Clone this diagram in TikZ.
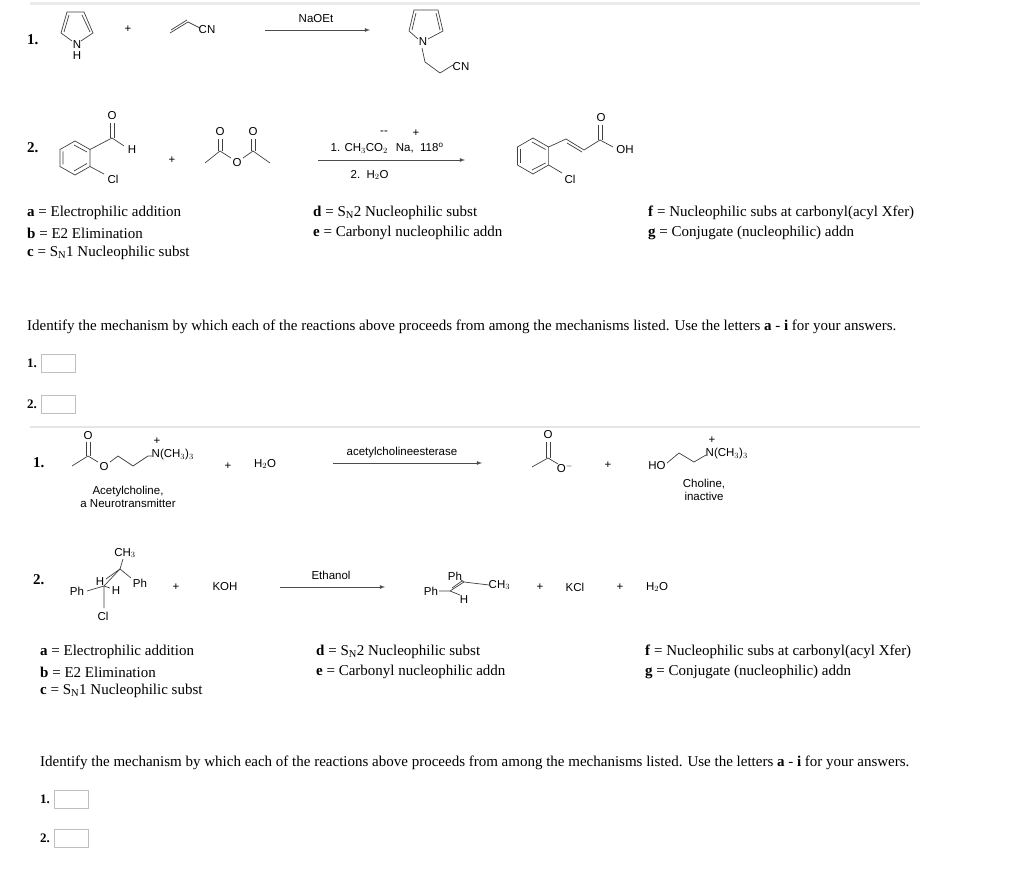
\documentclass[tikz,border=0pt]{standalone}
\usepackage{fontspec}
\setmainfont{Liberation Serif}
\newfontfamily\chemfont{Liberation Sans}
\begin{document}
\begin{tikzpicture}[x=1pt,y=-1pt,
  lbl/.style={font=\chemfont\fontsize{11.5}{13}\selectfont,inner sep=0.5pt},
  txt/.style={font=\fontsize{15}{17}\selectfont,anchor=west,inner sep=0pt},
  num/.style={txt,font=\bfseries\fontsize{15}{17}\selectfont},
  bd/.style={line width=0.7pt,draw=black!75},
  rxn/.style={line width=0.8pt,draw=black!70,-latex},
  ansbox/.style={draw=black!25,minimum width=34pt,minimum height=18pt,inner sep=0pt}]
\useasboundingbox (0,0) rectangle (1018,874);
\draw[line width=3pt,black!8] (30,4) -- (920,4);
\draw[line width=1.5pt,black!10] (30,427) -- (920,427);
% ---------- top reaction 1
\node[num] (n1) at (27,40) {1.};
\draw[bd] (61,33) -- (67,12) -- (84,12) -- (93,33) -- (81,41);
\draw[bd] (61,33) -- (72,41);
\draw[bd] (64,32) -- (69,15) (82,15) -- (90,32);
\node[lbl] (pyN) at (77,45) {N};
\node[lbl] (pyH) at (77,56) {H};
\node[lbl] (p1) at (128,29) {+};
\draw[bd] (170,33) -- (188,22) -- (200,28);
\draw[bd] (171,30) -- (187,20);
\node[lbl,anchor=west] (cn1) at (198,30) {CN};
\node[lbl] (naoet) at (316,19) {NaOEt};
\coordinate (a1s) at (265,30); \coordinate (a1e) at (370,30);
\draw[rxn] (a1s) -- (a1e);
\draw[bd] (409,31) -- (414,10) -- (438,10) -- (443,31) -- (428,39);
\draw[bd] (409,31) -- (418,39);
\draw[bd] (412,30) -- (416,13) (436,13) -- (440,30);
\node[lbl] (pyN2) at (423,42) {N};
\draw[bd] (422,48) -- (425,62) -- (440,73) -- (453,65);
\node[lbl,anchor=west] (cn2) at (452,67) {CN};
% ---------- top reaction 2
\node[num] (n2) at (27,148) {2.};
\draw[bd] (75,141) -- (90,149.5) -- (90,166.5) -- (75,175) -- (60,166.5) -- (60,149.5) -- cycle;
\draw[bd] (63,151.5) -- (63,164.5) (74,171) -- (87,163.5) (74,145) -- (87,152);
\draw[bd] (90,149.5) -- (112,138) -- (124,146);
\draw[bd] (110,138) -- (110,123) (114,138) -- (114,123);
\node[lbl] (oa) at (112,116) {O};
\node[lbl] (ha) at (132,150) {H};
\draw[bd] (90,166.5) -- (104,174);
\node[lbl] (cla) at (113,179) {Cl};
\node[lbl] (p2) at (172,160) {+};
\draw[bd] (205,163) -- (220,151) -- (231,158) (243,158) -- (253,151) -- (270,163);
\draw[bd] (218,151) -- (218,139) (222,151) -- (222,139);
\draw[bd] (251,151) -- (251,139) (255,151) -- (255,139);
\node[lbl] (o1) at (220,132) {O};
\node[lbl] (o2) at (253,132) {O};
\node[lbl] (o3) at (237,163) {O};
\node[lbl,anchor=west] (cond1) at (330,148) {1. CH$_3$CO$_2$\hspace{8pt}Na,\ \ 118\textsuperscript{o}};
\node[lbl] (minus) at (384,133) {--};
\node[lbl] (plus) at (416,133) {+};
\node[lbl,anchor=west] (cond2) at (350,175) {2.\ \ H$_2$O};
\coordinate (a2s) at (318,160); \coordinate (a2e) at (465,160);
\draw[rxn] (a2s) -- (a2e);
\draw[bd] (533,138) -- (548.6,147) -- (548.6,165) -- (533,174) -- (517.4,165) -- (517.4,147) -- cycle;
\draw[bd] (520.4,149) -- (520.4,163) (532,170) -- (545.6,163) (532,142) -- (545.6,149.5);
\draw[bd] (548.6,147) -- (566,139) -- (584,150) -- (600,140) -- (613,147);
\draw[bd] (567,143) -- (582,152);
\draw[bd] (598,140) -- (598,125) (602,140) -- (602,125);
\node[lbl] (oc) at (601,118) {O};
\node[lbl] (oh) at (625,150) {OH};
\draw[bd] (548.6,165) -- (562,173);
\node[lbl] (clc) at (570,179) {Cl};
% ---------- legend 1
\node[txt] (la1) at (27,213) {\textbf{a} = Electrophilic addition};
\node[txt] (lb1) at (27,233) {\textbf{b} = E2 Elimination};
\node[txt] (lc1) at (27,253) {\textbf{c} = S\textsubscript{N}1 Nucleophilic subst};
\node[txt] (ld1) at (313,213) {\textbf{d} = S\textsubscript{N}2 Nucleophilic subst};
\node[txt] (le1) at (313,233) {\textbf{e} = Carbonyl nucleophilic addn};
\node[txt] (lf1) at (648,213) {\textbf{f} = Nucleophilic subs at carbonyl(acyl Xfer)};
\node[txt] (lg1) at (648,233) {\textbf{g} = Conjugate (nucleophilic) addn};
\node[txt] (q1) at (27,327) {Identify the mechanism by which each of the reactions above proceeds from among the mechanisms listed. Use the letters \textbf{a} - \textbf{i} for your answers.};
\node[num,font=\bfseries\fontsize{13}{15}\selectfont] (a11) at (27,363) {1.};
\node[ansbox] (b11) at (58,363) {};
\node[num,font=\bfseries\fontsize{13}{15}\selectfont] (a12) at (27,404) {2.};
\node[ansbox] (b12) at (58,404) {};
% ---------- bottom reaction 1
\node[num] (m1) at (33,463) {1.};
\draw[bd] (72,466) -- (88,456) -- (98,462) (110,462) -- (118,456) -- (133,466) -- (148,456) -- (152,456);
\draw[bd] (86,456) -- (86,442) (90,456) -- (90,442);
\node[lbl] (ac1) at (88,436) {O};
\node[lbl] (ac2) at (104,467) {O};
\node[lbl,anchor=west] (ac3) at (151,455) {N(CH$_3$)$_3$};
\node[lbl] (ac4) at (157,441) {+};
\node[lbl,align=center] (acn) at (128,497) {Acetylcholine,\\a Neurotransmitter};
\node[lbl] (p3) at (228,466) {+};
\node[lbl] (w1) at (265,464) {H$_2$O};
\node[lbl] (enz) at (402,453) {acetylcholineesterase};
\coordinate (a3s) at (333,463); \coordinate (a3e) at (482,463);
\draw[rxn] (a3s) -- (a3e);
\draw[bd] (532,467) -- (548,458) -- (558,464);
\draw[bd] (546,458) -- (546,442) (550,458) -- (550,442);
\node[lbl] (ao1) at (548,435) {O};
\node[lbl] (ao2) at (565,468) {O$^{-}$};
\node[lbl] (p4) at (608,465) {+};
\node[lbl] (ho) at (657,466) {HO};
\draw[bd] (667,463) -- (679,453) -- (694,462) -- (706,455);
\node[lbl,anchor=west] (ch3) at (705,454) {N(CH$_3$)$_3$};
\node[lbl] (ch4) at (712,440) {+};
\node[lbl,align=center] (chn) at (704,490) {Choline,\\inactive};
% ---------- bottom reaction 2
\node[num] (m2) at (33,580) {2.};
\node[lbl] (s1) at (125,553) {CH$_3$};
\node[lbl] (s2) at (140,583) {Ph};
\node[lbl] (s3) at (100,582) {H};
\node[lbl] (s4) at (77,591) {Ph};
\node[lbl] (s5) at (116,591) {H};
\node[lbl] (s6) at (103,616) {Cl};
\draw[bd] (120,569) -- (123,559) (120,569) -- (131,578) (120,569) -- (104,586) -- (104,608);
\draw[bd] (120,569) -- (106,579);
\draw[bd] (104,586) -- (87,591) (104,586) -- (110,588);
\node[lbl] (p5) at (176,587) {+};
\node[lbl] (koh) at (225,587) {KOH};
\node[lbl] (eth) at (331,575) {Ethanol};
\coordinate (a4s) at (280,587); \coordinate (a4e) at (385,587);
\draw[rxn] (a4s) -- (a4e);
\node[lbl] (e1) at (455,576) {Ph};
\node[lbl] (e2) at (431,591) {Ph};
\node[lbl] (e3) at (464,600) {H};
\node[lbl,anchor=west] (e4) at (488,585) {CH$_3$};
\draw[bd] (439,591) -- (450,591) -- (464,582) -- (489,585);
\draw[bd] (452,588) -- (462,581);
\draw[bd] (450,591) -- (460,595) (464,582) -- (461,580);
\node[lbl] (p6) at (540,587) {+};
\node[lbl] (kcl) at (575,587) {KCl};
\node[lbl] (p7) at (620,587) {+};
\node[lbl] (w2) at (657,587) {H$_2$O};
% ---------- legend 2
\node[txt] (la2) at (40,652) {\textbf{a} = Electrophilic addition};
\node[txt] (lb2) at (40,672) {\textbf{b} = E2 Elimination};
\node[txt] (lc2) at (40,691) {\textbf{c} = S\textsubscript{N}1 Nucleophilic subst};
\node[txt] (ld2) at (316,652) {\textbf{d} = S\textsubscript{N}2 Nucleophilic subst};
\node[txt] (le2) at (316,672) {\textbf{e} = Carbonyl nucleophilic addn};
\node[txt] (lf2) at (645,652) {\textbf{f} = Nucleophilic subs at carbonyl(acyl Xfer)};
\node[txt] (lg2) at (645,672) {\textbf{g} = Conjugate (nucleophilic) addn};
\node[txt] (q2) at (40,763) {Identify the mechanism by which each of the reactions above proceeds from among the mechanisms listed. Use the letters \textbf{a} - \textbf{i} for your answers.};
\node[num,font=\bfseries\fontsize{13}{15}\selectfont] (a21) at (40,799) {1.};
\node[ansbox] (b21) at (71,799) {};
\node[num,font=\bfseries\fontsize{13}{15}\selectfont] (a22) at (40,838) {2.};
\node[ansbox] (b22) at (71,838) {};
\end{tikzpicture}
\end{document}
